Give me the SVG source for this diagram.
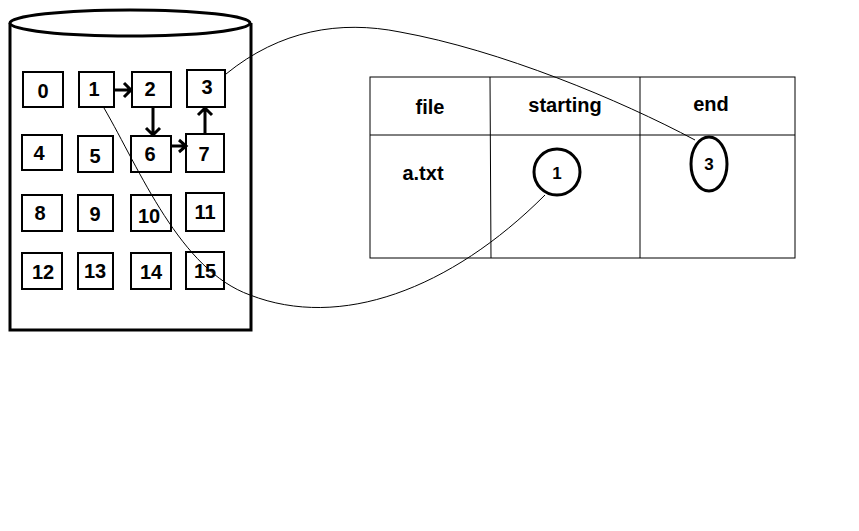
<svg xmlns="http://www.w3.org/2000/svg" width="859" height="531" viewBox="0 0 859 531">
<style>
.b{fill:#fff;stroke:#000;stroke-width:2}
.t{font-family:"Liberation Sans",Arial,sans-serif;font-weight:bold;font-size:20px;text-anchor:middle}
.a{stroke:#000;stroke-width:3;fill:none}
.c{stroke:#000;stroke-width:1;fill:none}
</style>
<rect width="859" height="531" fill="#fff"/>
<g id="disk">
<path d="M10,23 V330 H251 V23" fill="#fff" stroke="#000" stroke-width="3"/>
<ellipse cx="130" cy="23" rx="120" ry="13" fill="#fff" stroke="#000" stroke-width="3"/>
</g>
<g id="b0"><rect class="b" x="23" y="72" width="40" height="35"/><text class="t" x="43" y="98">0</text></g>
<g id="b1"><rect class="b" x="79" y="72" width="35" height="35"/><text class="t" x="94" y="96">1</text></g>
<g id="b2"><rect class="b" x="132" y="72" width="39" height="35"/><text class="t" x="150" y="96">2</text></g>
<g id="b3"><rect class="b" x="187" y="70" width="38" height="37"/><text class="t" x="207" y="94">3</text></g>
<g id="b4"><rect class="b" x="22" y="135" width="40" height="35"/><text class="t" x="39" y="160">4</text></g>
<g id="b5"><rect class="b" x="78" y="136" width="35" height="36"/><text class="t" x="95" y="163">5</text></g>
<g id="b6"><rect class="b" x="131" y="136" width="40" height="36"/><text class="t" x="150" y="161">6</text></g>
<g id="b7"><rect class="b" x="186" y="134" width="38" height="38"/><text class="t" x="204" y="161">7</text></g>
<g id="b8"><rect class="b" x="22" y="195" width="40" height="36"/><text class="t" x="40" y="220">8</text></g>
<g id="b9"><rect class="b" x="78" y="195" width="35" height="36"/><text class="t" x="95" y="221">9</text></g>
<g id="b10"><rect class="b" x="131" y="195" width="40" height="36"/><text class="t" x="149" y="223">10</text></g>
<g id="b11"><rect class="b" x="186" y="193" width="38" height="38"/><text class="t" x="205" y="219">11</text></g>
<g id="b12"><rect class="b" x="22" y="253" width="40" height="36"/><text class="t" x="43" y="279">12</text></g>
<g id="b13"><rect class="b" x="78" y="253" width="35" height="36"/><text class="t" x="95" y="278">13</text></g>
<g id="b14"><rect class="b" x="131" y="253" width="40" height="36"/><text class="t" x="151" y="279">14</text></g>
<g id="b15"><rect class="b" x="186" y="252" width="38" height="37"/><text class="t" x="205" y="278">15</text></g>
<g id="table" fill="none" stroke="#000" stroke-width="1">
<rect x="370" y="77" width="425" height="181"/>
<line x1="370" y1="135" x2="795" y2="135"/>
<line x1="490" y1="77" x2="491" y2="258"/>
<line x1="640" y1="77" x2="640" y2="258"/>
</g>
<g id="labels">
<text class="t" x="430" y="114">file</text>
<text class="t" x="565" y="112">starting</text>
<text class="t" x="711" y="111">end</text>
<text class="t" x="423" y="180">a.txt</text>
</g>
<g id="s1"><circle cx="557" cy="172" r="23" fill="none" stroke="#000" stroke-width="3"/><text class="t" x="557" y="179" style="font-size:17px">1</text></g>
<g id="e3"><ellipse cx="709" cy="164" rx="18" ry="27" fill="none" stroke="#000" stroke-width="3"/><text class="t" x="709" y="170" style="font-size:17px">3</text></g>
<g id="connectors">
<path class="a" d="M114,90 H131 M124,83 L131,90 L124,97"/>
<path class="a" d="M153,107 V135 M146,128 L153,135 L160,128"/>
<path class="a" d="M171,146 H186 M179,140 L186,146 L179,152"/>
<path class="a" d="M205,134 V108 M198,115 L205,108 L212,115"/>
<path class="c" d="M226,74 C280,30 340,20 400,32 C500,50 620,100 695,140"/>
<path class="c" d="M104,108 C140,170 180,270 250,295 C340,330 450,290 545,195"/>
</g>
</svg>
